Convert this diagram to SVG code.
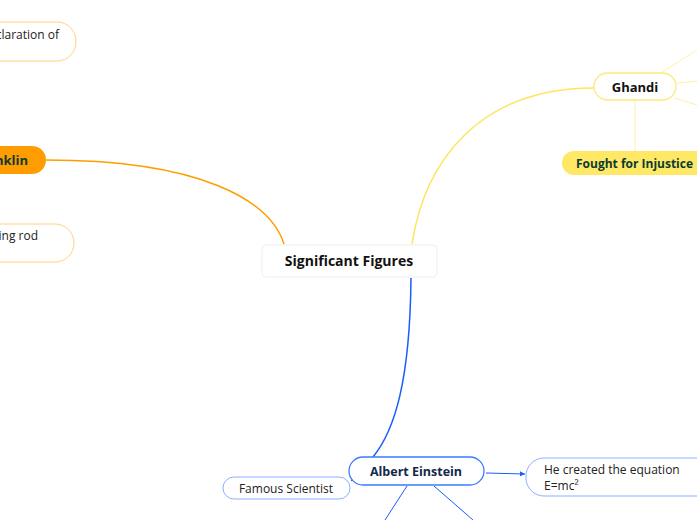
<svg xmlns="http://www.w3.org/2000/svg" width="697" height="520" viewBox="0 0 697 520">
<defs>
<style>
text{font-family:"Open Sans","Noto Sans",sans-serif;}
.b{font-weight:bold;}
.t{font-size:12px;fill:#222;}
</style>
<marker id="ab" markerWidth="6" markerHeight="6" refX="5" refY="3" orient="auto"><path d="M0,0.5L5,3L0,5.5z" fill="#1a5cff"/></marker>
</defs>
<rect width="697" height="520" fill="#fff"/>
<g id="connectors" fill="none">
<path d="M46,160 C200,160 270,200 284,244" stroke="#ff9d00" stroke-width="1.5"/>
<path d="M594,88 C480,88 425,160 412,244" stroke="#ffe55c" stroke-width="1.5"/>
<path d="M661,73 L697,50 M677,83 L697,81 M674,98 L697,105 M635,100 L635,152" stroke="#fff0a8" stroke-width="1"/>
<path d="M411,278 C410,380 395,430 373,457" stroke="#1a5cff" stroke-width="1.5"/>
<path d="M486,473 L525,474" stroke="#1a5cff" stroke-width="1" marker-end="url(#ab)"/>
<path d="M355,477 L351,481" stroke="#1a5cff" stroke-width="1" marker-end="url(#ab)"/>
<path d="M407,486 L385,520 M434,486 L473,520" stroke="#1a5cff" stroke-width="1"/>
</g>
<g id="central"><rect x="262" y="245" width="175" height="32" rx="4" fill="#fff" stroke="#eee"/><text x="349" y="266" text-anchor="middle" class="b" font-size="14" fill="#111">Significant Figures</text></g>
<g id="franklin"><rect x="-120" y="146" width="166" height="28" rx="14" fill="#ff9d00"/><text x="28" y="165" text-anchor="end" class="b" font-size="13" fill="#0d3b2e">Benjamin Franklin</text></g>
<g id="declaration"><rect x="-120" y="22" width="196" height="39" rx="19" fill="#fff" stroke="#ffd27f"/><text x="59" y="39" text-anchor="end" class="t">Declaration of</text></g>
<g id="rod"><rect x="-120" y="224" width="194" height="38" rx="19" fill="#fff" stroke="#ffd27f"/><text x="38" y="240" text-anchor="end" class="t">lightning rod</text></g>
<g id="ghandi"><rect x="594" y="73" width="82" height="27" rx="13.5" fill="#fff" stroke="#ffe97a" stroke-width="1.3"/><text x="635" y="92" text-anchor="middle" class="b" font-size="13" fill="#111">Ghandi</text></g>
<g id="fought"><rect x="562" y="151" width="150" height="24" rx="12" fill="#ffe866"/><text x="576" y="168" class="b" font-size="12" fill="#0d3b2e">Fought for Injustice</text></g>
<g id="einstein"><rect x="349" y="457" width="135" height="28" rx="14" fill="#fff" stroke="#3a7bff" stroke-width="1.3"/><text x="416" y="476" text-anchor="middle" class="b" font-size="12.5" fill="#13294b">Albert Einstein</text></g>
<g id="famous"><rect x="223" y="477" width="127" height="22" rx="11" fill="#fff" stroke="#8ab0ff"/><text x="286" y="493" text-anchor="middle" class="t">Famous Scientist</text></g>
<g id="equation"><rect x="526" y="458" width="190" height="38" rx="18" fill="#fff" stroke="#8ab0ff"/><text x="544" y="474" class="t">He created the equation</text><text x="544" y="490" class="t">E=mc²</text></g>
</svg>
